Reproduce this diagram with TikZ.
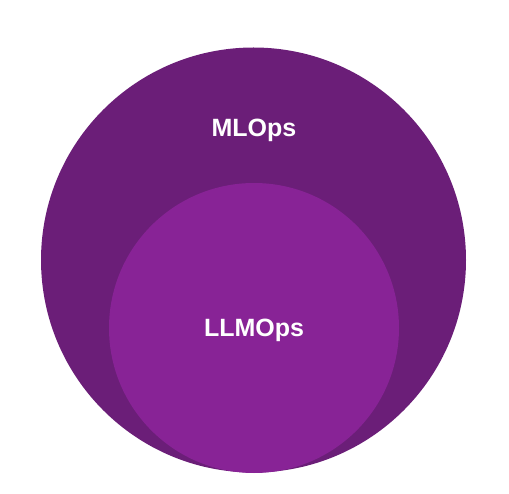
\documentclass[tikz,border=0pt]{standalone}
\usepackage{fontspec}
\setmainfont{Liberation Sans}
\usetikzlibrary{positioning}
\definecolor{mlopsPurple}{RGB}{107,30,120}
\definecolor{llmopsPurple}{RGB}{136,35,150}

\begin{document}
\begin{tikzpicture}[
    x=1pt, y=-1pt,
    setcircle/.style={
        circle,
        draw=none,
        inner sep=0pt
    },
    lbl/.style={
        font=\fontsize{25}{30}\selectfont\bfseries,
        text=white,
        inner sep=0pt
    },
]

% frame
\useasboundingbox (0,0) rectangle (509,494);

% nodes
\node[setcircle, fill=mlopsPurple, minimum size=425pt] (mlops) at (253.5,260) {};
\node[setcircle, fill=llmopsPurple, minimum size=290pt] (llmops) at (254,328) {};

\node[lbl] (mlopsText) at (254,130) {MLOps};
\node[lbl] (llmopsText) at (254,330) {LLMOps};

\end{tikzpicture}
\end{document}
